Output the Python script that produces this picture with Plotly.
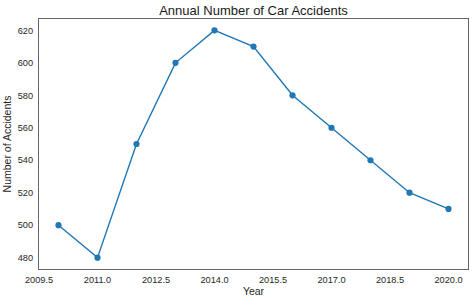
import plotly.graph_objects as go

years = [2010, 2011, 2012, 2013, 2014, 2015, 2016, 2017, 2018, 2019, 2020]
accidents = [500, 480, 550, 600, 620, 610, 580, 560, 540, 520, 510]
x_ticks = [2009.5, 2011.0, 2012.5, 2014.0, 2015.5, 2017.0, 2018.5, 2020.0]
y_ticks = [480, 500, 520, 540, 560, 580, 600, 620]

FONT = "Liberation Sans, Arial, sans-serif"
TXT = "#262626"

fig = go.Figure(go.Scatter(
    x=years, y=accidents, mode="lines+markers",
    line=dict(color="#1f77b4", width=1.4),
    marker=dict(color="#1f77b4", size=6.2),
))

fig.update_layout(
    width=474, height=302,
    margin=dict(l=39, r=6, t=19, b=33),
    paper_bgcolor="white", plot_bgcolor="white",
    showlegend=False,
    font=dict(family=FONT, color=TXT),
    title=dict(text="Annual Number of Car Accidents", x=0.5, xref="paper",
               y=1 - 10.5 / 302, yanchor="middle",
               font=dict(size=13, color="#1a1a1a", family=FONT)),
)
fig.update_xaxes(
    range=[2009.5, 2020.5], tickvals=x_ticks,
    ticktext=[f"{v:.1f}" for v in x_ticks],
    showgrid=False, zeroline=False, ticks="",
    showline=True, linecolor="#666", linewidth=1.2, mirror=True,
    tickfont=dict(size=9.2, color=TXT), ticklabelstandoff=2,
    title=dict(text="Year", font=dict(size=10.5, color=TXT), standoff=2),
)
fig.update_yaxes(
    range=[473, 627], tickvals=y_ticks,
    showgrid=False, zeroline=False, ticks="",
    showline=True, linecolor="#666", linewidth=1.2, mirror=True,
    tickfont=dict(size=9.2, color=TXT), ticklabelstandoff=3,
    title=dict(text="Number of Accidents", font=dict(size=10.5, color=TXT), standoff=4),
)

fig.write_html("out.html")
